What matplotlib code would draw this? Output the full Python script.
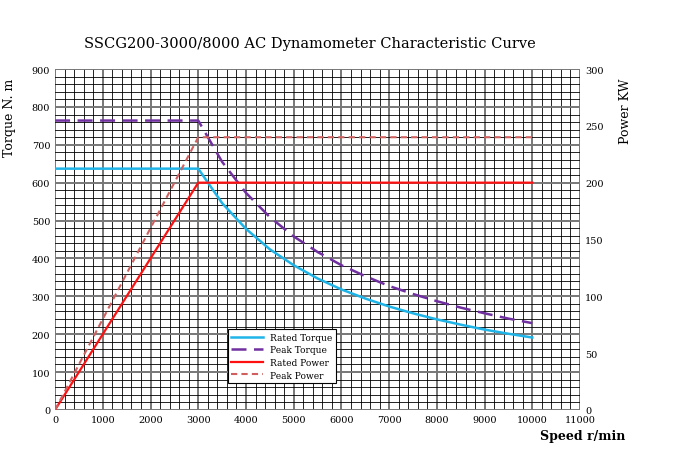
import matplotlib
matplotlib.use('Agg')
import matplotlib.pyplot as plt
import numpy as np

# speeds (r/min) and readings
speed = [0, 3000, 3500, 4000, 4500, 5000, 5500, 6000, 6500, 7000, 7500, 8000, 8500, 9000, 9500, 10000]
rated_torque = [637, 637, 546, 478, 424, 382, 347, 318, 294, 273, 255, 239, 225, 212, 201, 191]
peak_torque = [764, 764, 655, 573, 509, 458, 417, 382, 353, 327, 306, 287, 270, 255, 241, 229]
power_speed = [0, 3000, 10000]
rated_power = [0, 200, 200]
peak_power = [0, 240, 240]

plt.rcParams['font.family'] = 'DejaVu Serif'
fig = plt.figure(figsize=(6.8, 4.52), dpi=100)
ax = fig.add_axes([0.081, 0.091, 0.772, 0.754])
ax2 = ax.twinx()

ax.set_xlim(0, 11000)
ax.set_ylim(0, 900)
ax2.set_ylim(0, 300)
ax.set_xticks(np.arange(0, 11001, 1000))
ax.set_yticks(np.arange(0, 901, 100))
ax2.set_yticks(np.arange(0, 301, 50))
ax.set_xticks(np.arange(0, 11001, 200), minor=True)
ax.set_yticks(np.arange(0, 901, 20), minor=True)
ax.grid(which='minor', color='black', linewidth=0.6)
ax.grid(which='major', color='#777777', linewidth=1.4)
ax.set_axisbelow(True)
ax.tick_params(which='both', length=0, labelsize=7)
ax2.tick_params(length=0, labelsize=7)
for a in (ax, ax2):
    for s in a.spines.values():
        s.set_visible(False)

ax.plot(speed, rated_torque, color='#1fb4e8', lw=1.8, label='Rated Torque')
ax.plot(speed, peak_torque, color='#7030a0', lw=1.8, dashes=(6, 3), label='Peak Torque')
ax2.plot(power_speed, rated_power, color='#ff1010', lw=1.6, label='Rated Power')
ax2.plot(power_speed, peak_power, color='#d06060', lw=1.5, dashes=(3, 2), label='Peak Power')

h1, l1 = ax.get_legend_handles_labels()
h2, l2 = ax2.get_legend_handles_labels()
leg = ax2.legend(h1 + h2, l1 + l2, loc='lower left', bbox_to_anchor=(0.32, 0.065),
                 fontsize=6.5, frameon=True, fancybox=False, edgecolor='black',
                 framealpha=1, handlelength=3.5, borderpad=0.4, labelspacing=0.4)
leg.get_frame().set_linewidth(0.8)

ax.set_ylabel('Torque N. m', fontsize=9)
ax.yaxis.set_label_coords(-0.075, 0.86)
ax2.set_ylabel('Power KW', fontsize=9)
ax2.yaxis.set_label_coords(1.075, 0.88)
ax.text(1.005, -0.075, 'Speed r/min', transform=ax.transAxes, fontsize=9,
        fontweight='bold', ha='center', va='center')
fig.text(0.455, 0.903, 'SSCG200-3000/8000 AC Dynamometer Characteristic Curve',
         fontsize=10.5, ha='center', va='center')

fig.savefig('out.png', dpi=100, facecolor='white')
